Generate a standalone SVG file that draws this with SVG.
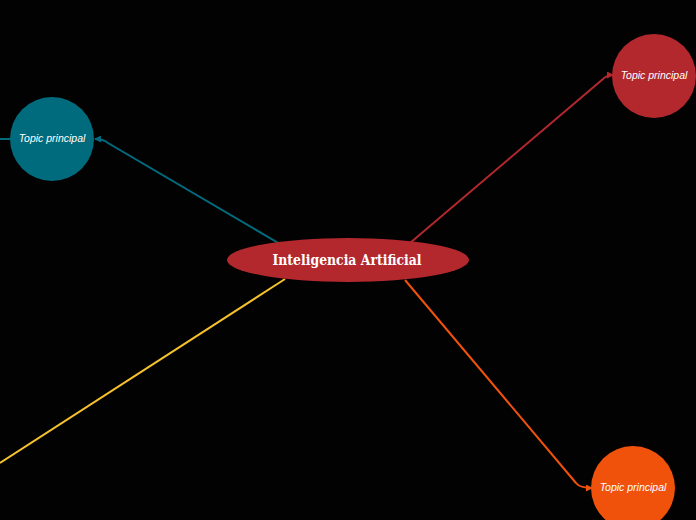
<svg xmlns="http://www.w3.org/2000/svg" width="696" height="520" viewBox="0 0 696 520">
<defs>
<style>
.ln{fill:none;stroke-width:2}
.topic{font-family:"Liberation Sans",sans-serif;font-style:italic;font-size:10.5px;fill:#fff;text-anchor:middle}
.main{font-family:"DejaVu Serif","Liberation Serif",serif;font-weight:bold;font-size:14px;fill:#fff;text-anchor:middle}
</style>
<marker id="mt" markerWidth="7" markerHeight="7" refX="6" refY="3.5" orient="auto" markerUnits="userSpaceOnUse"><path d="M0,0 L7,3.5 L0,7 z" fill="#006b7d"/></marker>
<marker id="mr" markerWidth="7" markerHeight="7" refX="6" refY="3.5" orient="auto" markerUnits="userSpaceOnUse"><path d="M0,0 L7,3.5 L0,7 z" fill="#b3282d"/></marker>
<marker id="mo" markerWidth="7" markerHeight="7" refX="6" refY="3.5" orient="auto" markerUnits="userSpaceOnUse"><path d="M0,0 L7,3.5 L0,7 z" fill="#f0520c"/></marker>
</defs>
<rect width="696" height="520" fill="#030203"/>
<g id="connectors">
<path class="ln" stroke="#006b7d" d="M280,244 L108,143 Q103,139 95,139" marker-end="url(#mt)"/>
<path class="ln" stroke="#006b7d" d="M0,139 L10,139"/>
<path class="ln" stroke="#b3282d" d="M410,243 L603,79 Q607,75 613,75" marker-end="url(#mr)"/>
<path class="ln" stroke="#f0520c" d="M405,280 L576,483 Q580,488 592,488" marker-end="url(#mo)"/>
<path class="ln" stroke="#f5c22b" d="M285,279 L0,463"/>
</g>
<g id="center">
<ellipse cx="348" cy="260" rx="121" ry="22" fill="#b3282d"/>
<text class="main" x="347" y="265" textLength="149" lengthAdjust="spacingAndGlyphs">Inteligencia Artificial</text>
</g>
<g id="topic-left">
<circle cx="52" cy="139" r="42" fill="#006b7d"/>
<text class="topic" x="52" y="142">Topic principal</text>
</g>
<g id="topic-top-right">
<circle cx="654" cy="76" r="42" fill="#b3282d"/>
<text class="topic" x="654" y="79">Topic principal</text>
</g>
<g id="topic-bottom-right">
<circle cx="633" cy="488" r="42" fill="#f0520c"/>
<text class="topic" x="633" y="491">Topic principal</text>
</g>
</svg>
